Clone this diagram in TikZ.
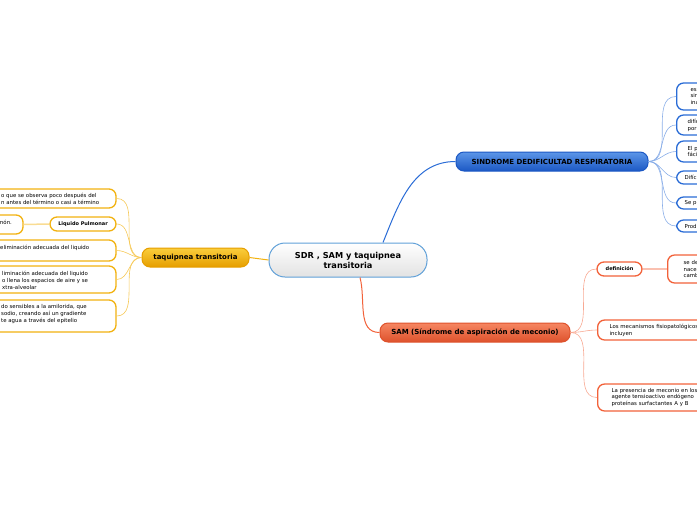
\documentclass[tikz,border=0pt]{standalone}
\usepackage{fontspec}
\setmainfont{DejaVu Sans}
\usetikzlibrary{positioning,calc}
\definecolor{taqgold}{RGB}{242,178,16}
\definecolor{taqtop}{RGB}{250,206,60}
\definecolor{taqbot}{RGB}{230,158,0}
\definecolor{sdrtop}{RGB}{92,150,232}
\definecolor{sdrbot}{RGB}{28,88,196}
\definecolor{sdrline}{RGB}{42,108,214}
\definecolor{samtop}{RGB}{246,134,98}
\definecolor{sambot}{RGB}{222,82,44}
\definecolor{samline}{RGB}{242,98,58}
\definecolor{rootline}{RGB}{96,160,216}
\definecolor{rootbot}{RGB}{226,226,226}
\tikzset{
  rootbox/.style={
    rectangle,
    rounded corners=16pt,
    draw=rootline,
    line width=1pt,
    top color=white,
    bottom color=rootbot,
    minimum width=158pt,
    minimum height=34pt,
    align=center,
    font=\bfseries\fontsize{8.2}{10}\selectfont
  },
  mainbox/.style={
    rectangle,
    rounded corners=8pt,
    line width=1pt,
    minimum height=19pt,
    align=center,
    font=\bfseries\fontsize{7}{8}\selectfont
  },
  leafbox/.style={
    rectangle,
    rounded corners=7pt,
    line width=1.3pt,
    fill=white,
    align=left,
    font=\fontsize{5.4}{6.9}\selectfont
  },
  taqleaf/.style={leafbox, draw=taqgold},
  sdrleaf/.style={leafbox, draw=sdrline, anchor=west, text width=70pt, inner xsep=8pt},
  samleaf/.style={leafbox, draw=samline, anchor=west, text width=130pt},
  leaftxt/.style={align=left, inner sep=0pt, anchor=west, font=\fontsize{5.4}{6.9}\selectfont},
  taqlink/.style={draw=taqgold!70, line width=0.6pt},
  sdrlink/.style={draw=sdrline!55, line width=0.6pt},
  samlink/.style={draw=samline!55, line width=0.6pt}
}
\begin{document}
\begin{tikzpicture}[x=1pt,y=1pt]
\useasboundingbox (0,0) rectangle (697,-520);
\clip (0,0) rectangle (697,-520);
% centro
\node[rootbox] (root) at (348,-260) {SDR , SAM y taquipnea\\transitoria};
\node[mainbox, draw=taqbot, top color=taqtop, bottom color=taqbot, minimum width=107pt] (taq) at (195.5,-257.5) {taquipnea transitoria};
\node[mainbox, draw=sdrbot, top color=sdrtop, bottom color=sdrbot, minimum width=192pt] (sdr) at (552,-161.5) {SINDROME DEDIFICULTAD RESPIRATORIA};
\node[mainbox, draw=sambot, top color=samtop, bottom color=sambot, minimum width=190pt] (sam) at (475,-332.5) {SAM (Síndrome de aspiración de meconio)};
% taquipnea
\node[taqleaf, minimum width=156pt, minimum height=19pt] (tq1) at (38,-198.5) {};
\node[leaftxt] at (1,-199) {o que se observa poco después del\\n antes del término o casi a término};
\node[taqleaf, minimum width=63pt, minimum height=19pt] (tq2) at (-8.5,-224.5) {};
\node[leaftxt] at (-2,-222.5) {món.};
\node[taqleaf, font=\bfseries\fontsize{5}{6}\selectfont, minimum width=66pt, minimum height=14pt, align=center] (liq) at (83,-224) {Liquido Pulmonar};
\node[taqleaf, minimum width=156pt, minimum height=21pt] (tq3) at (38,-250.5) {};
\node[leaftxt] at (0,-247.5) {eliminación adecuada del liquido};
\node[taqleaf, minimum width=156pt, minimum height=27pt] (tq4) at (38,-279.5) {};
\node[leaftxt] at (2,-280.5) {liminación adecuada del liquido\\o llena los espacios de aire y se\\xtra-alveolar};
\node[taqleaf, minimum width=156pt, minimum height=32pt] (tq5) at (38,-316) {};
\node[leaftxt] at (1,-314) {do sensibles a la amilorida, que\\ sodio, creando así un gradiente\\te agua a través del epitelio};
% sindrome de dificultad respiratoria
\node[sdrleaf, minimum height=27pt, inner xsep=14pt] (sd1) at (676,-96.5) {es\\sir\\ina};
\node[sdrleaf, minimum height=20pt, inner xsep=11pt] (sd2) at (676,-125) {difíc\\por};
\node[sdrleaf, minimum height=21pt, inner xsep=11pt] (sd3) at (676,-151.5) {El p\\fácil};
\node[sdrleaf, minimum height=13pt] (sd4) at (676,-177.5) {Difíc};
\node[sdrleaf, minimum height=12pt] (sd5) at (676,-203) {Se p};
\node[sdrleaf, minimum height=12pt] (sd6) at (676,-226) {Prod};
% sindrome de aspiracion de meconio
\node[leafbox, draw=samline, minimum width=45pt, minimum height=14pt, align=center, font=\bfseries\fontsize{5}{6}\selectfont] (defi) at (619.5,-269) {definición};
\node[samleaf, minimum height=28pt, inner xsep=16pt] (sm1) at (667,-269) {se de\\nace\\camb};
\node[samleaf, minimum height=20pt, inner xsep=12pt] (sm2) at (597,-330) {Los mecanismos fisiopatológicos\\incluyen};
\node[samleaf, minimum height=27pt, inner xsep=14pt] (sm3) at (597,-397.5) {La presencia de meconio en los\\agente tensioactivo endógeno\\proteínas surfactantes A y B};
% ramas
\draw[draw=sdrline, line width=1pt] ([xshift=35pt]root.north) to[out=68,in=180] (sdr.west);
\draw[draw=samline, line width=1pt] ([xshift=12pt]root.south) to[out=-75,in=180] (sam.west);
\draw[draw=taqgold, line width=1pt] (root.west) -- (taq.east);
\foreach \n in {tq1,liq,tq3,tq4,tq5}
  \draw[taqlink] (taq.west) to[out=180,in=0] (\n.east);
\draw[draw=taqgold!45, line width=1.5pt] (tq2.east) -- (liq.west);
\foreach \n in {sd1,sd2,sd3,sd4,sd5,sd6}
  \draw[sdrlink] (sdr.east) to[out=0,in=180] (\n.west);
\foreach \n in {defi,sm2,sm3}
  \draw[samlink] (sam.east) to[out=0,in=180] (\n.west);
\draw[draw=samline!40, line width=1.8pt] (defi.east) -- (sm1.west);
\end{tikzpicture}
\end{document}
